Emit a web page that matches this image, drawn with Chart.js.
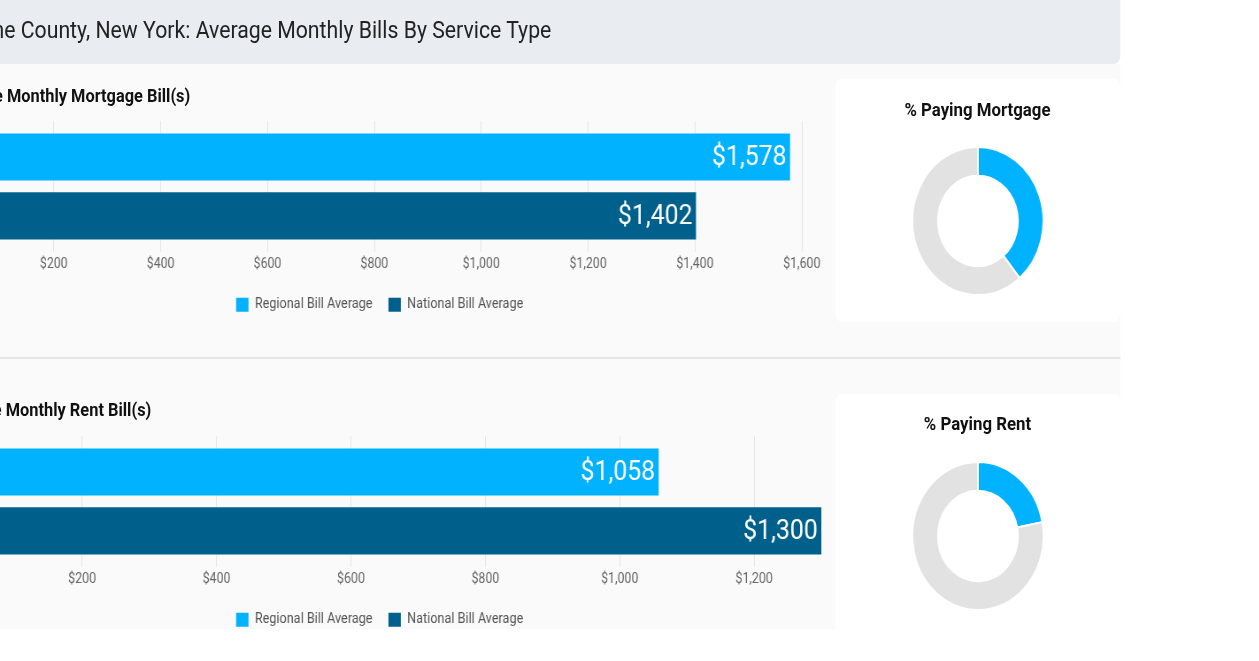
<!DOCTYPE html>
<html>
<head>
<meta charset="utf-8">
<script src="https://cdn.jsdelivr.net/npm/chart.js@4.4.1/dist/chart.umd.min.js"></script>
<style>
  html, body { margin: 0; padding: 0; background: #fff; overflow: hidden; }
  body { width: 1259px; height: 661px; font-family: Roboto, sans-serif; }
  /* the whole page is squeezed sideways, like the source screenshot */
  #page { position: absolute; left: 0; top: 0; width: 1423px; height: 661px;
          transform: scaleX(0.885); transform-origin: 0 0; }
  .box { position: absolute; }
  .txt { position: absolute; white-space: nowrap; }
  canvas { position: absolute; }
</style>
</head>
<body>
<div id="page">
  <div class="box" style="left:-20px; top:0; width:1285.5px; height:64px; background:#e9edf1; border-bottom-right-radius:8px;"></div>
  <div class="txt" style="right:800px; top:15px; line-height:30px; font-size:24px; color:#222;">Greene County, New York: Average Monthly Bills By Service Type</div>

  <div class="box" style="left:-20px; top:64px; width:1285.5px; height:293px; background:#fafafa; border-bottom:2px solid #e4e4e4;"></div>
  <div class="box" style="left:-20px; top:359px; width:1285.5px; height:270px; background:#fafafa;"></div>

  <div class="txt" style="right:1208px; top:84px; line-height:24px; font-size:18.5px; font-weight:bold; color:#111;">Average Monthly Mortgage Bill(s)</div>
  <div class="txt" style="right:1252px; top:398px; line-height:24px; font-size:18.5px; font-weight:bold; color:#111;">Average Monthly Rent Bill(s)</div>

  <div class="box" style="left:943.5px; top:79px; width:322px; height:243px; background:#fff; border-radius:8px;"></div>
  <div class="box" style="left:943.5px; top:394px; width:322px; height:235px; background:#fff; border-radius:8px 8px 0 0;"></div>
  <div class="txt" style="left:943.5px; width:322px; text-align:center; top:98px; line-height:24px; font-size:19px; font-weight:bold; color:#111;">% Paying Mortgage</div>
  <div class="txt" style="left:943.5px; width:322px; text-align:center; top:412px; line-height:24px; font-size:19px; font-weight:bold; color:#111;">% Paying Rent</div>

  <canvas id="mortgageBar" width="1013" height="212" style="left:-78px; top:110px;"></canvas>
  <canvas id="rentBar" width="1013" height="212" style="left:-78px; top:425px;"></canvas>
  <canvas id="mortgagePie" width="150" height="150" style="left:1030px; top:146px;"></canvas>
  <canvas id="rentPie" width="150" height="150" style="left:1030px; top:461px;"></canvas>
</div>

<script>
const seriesNames = ['Regional Bill Average', 'National Bill Average'];
const mortgageBills = [1578, 1402];
const rentBills = [1058, 1300];
const mortgageAxisMax = 1600;
const rentAxisMax = 1300;
const tickStep = 200;
const payingLabels = ['Paying', 'Not Paying'];
const payingMortgage = [39, 61];
const payingRent = [22, 78];

const lightBlue = '#00b2ff';
const darkBlue = '#00608c';
const legendMid = 507; // legend sits in the middle of the canvas, not of the plot

Chart.defaults.font.family = 'Roboto';
Chart.defaults.animation = false;

function money(v) {
    return '$' + v.toLocaleString('en-US');
}

// white dollar amount inside the end of each bar
const barValues = {
    id: 'barValues',
    afterDatasetsDraw(chart) {
        let ctx = chart.ctx;
        ctx.save();
        ctx.font = '28px Roboto';
        ctx.fillStyle = '#fff';
        ctx.textAlign = 'right';
        ctx.textBaseline = 'middle';
        chart.data.datasets.forEach((ds, i) => {
            chart.getDatasetMeta(i).data.forEach((bar, j) => {
                ctx.fillText(money(ds.data[j]), bar.x - 4, bar.y + 1);
            });
        });
        ctx.restore();
    }
};

const legendShift = {
    id: 'legendShift',
    afterLayout(chart) {
        let lg = chart.legend;
        let d = legendMid - (lg.left + lg.right) / 2;
        lg.left += d;
        lg.right += d;
    }
};

function barChart(id, values, axisMax, padLeft, padRight) {
    return new Chart(document.getElementById(id), {
        type: 'bar',
        data: {
            labels: [''],
            datasets: [
                { label: seriesNames[0], data: [values[0]], backgroundColor: lightBlue },
                { label: seriesNames[1], data: [values[1]], backgroundColor: darkBlue }
            ]
        },
        options: {
            indexAxis: 'y',
            responsive: false,
            categoryPercentage: 0.9,
            barPercentage: 0.8,
            layout: { padding: { top: 11, left: padLeft, right: padRight, bottom: 0 } },
            scales: {
                x: {
                    min: 0,
                    max: axisMax,
                    grid: { color: '#e6e6e6', drawTicks: false },
                    border: { display: false },
                    ticks: {
                        stepSize: tickStep,
                        includeBounds: false,
                        padding: 4,
                        color: '#666',
                        font: { size: 14 },
                        callback: v => money(v)
                    },
                    afterFit: s => { s.height += 3; }
                },
                y: { display: false }
            },
            plugins: {
                legend: {
                    position: 'bottom',
                    labels: { boxWidth: 14, boxHeight: 14, padding: 18, color: '#555', font: { size: 14.3 } }
                },
                tooltip: { enabled: false }
            }
        },
        plugins: [barValues, legendShift]
    });
}

function pieChart(id, values) {
    return new Chart(document.getElementById(id), {
        type: 'doughnut',
        data: {
            labels: payingLabels,
            datasets: [{
                data: values,
                backgroundColor: [lightBlue, '#e2e2e2'],
                borderColor: '#fff',
                borderWidth: 2
            }]
        },
        options: {
            responsive: false,
            cutout: '61%',
            plugins: { legend: { display: false }, tooltip: { enabled: false } }
        }
    });
}

barChart('mortgageBar', mortgageBills, mortgageAxisMax, 18, 29);
barChart('rentBar', rentBills, rentAxisMax, 19, 7);
pieChart('mortgagePie', payingMortgage);
pieChart('rentPie', payingRent);
</script>
</body>
</html>
